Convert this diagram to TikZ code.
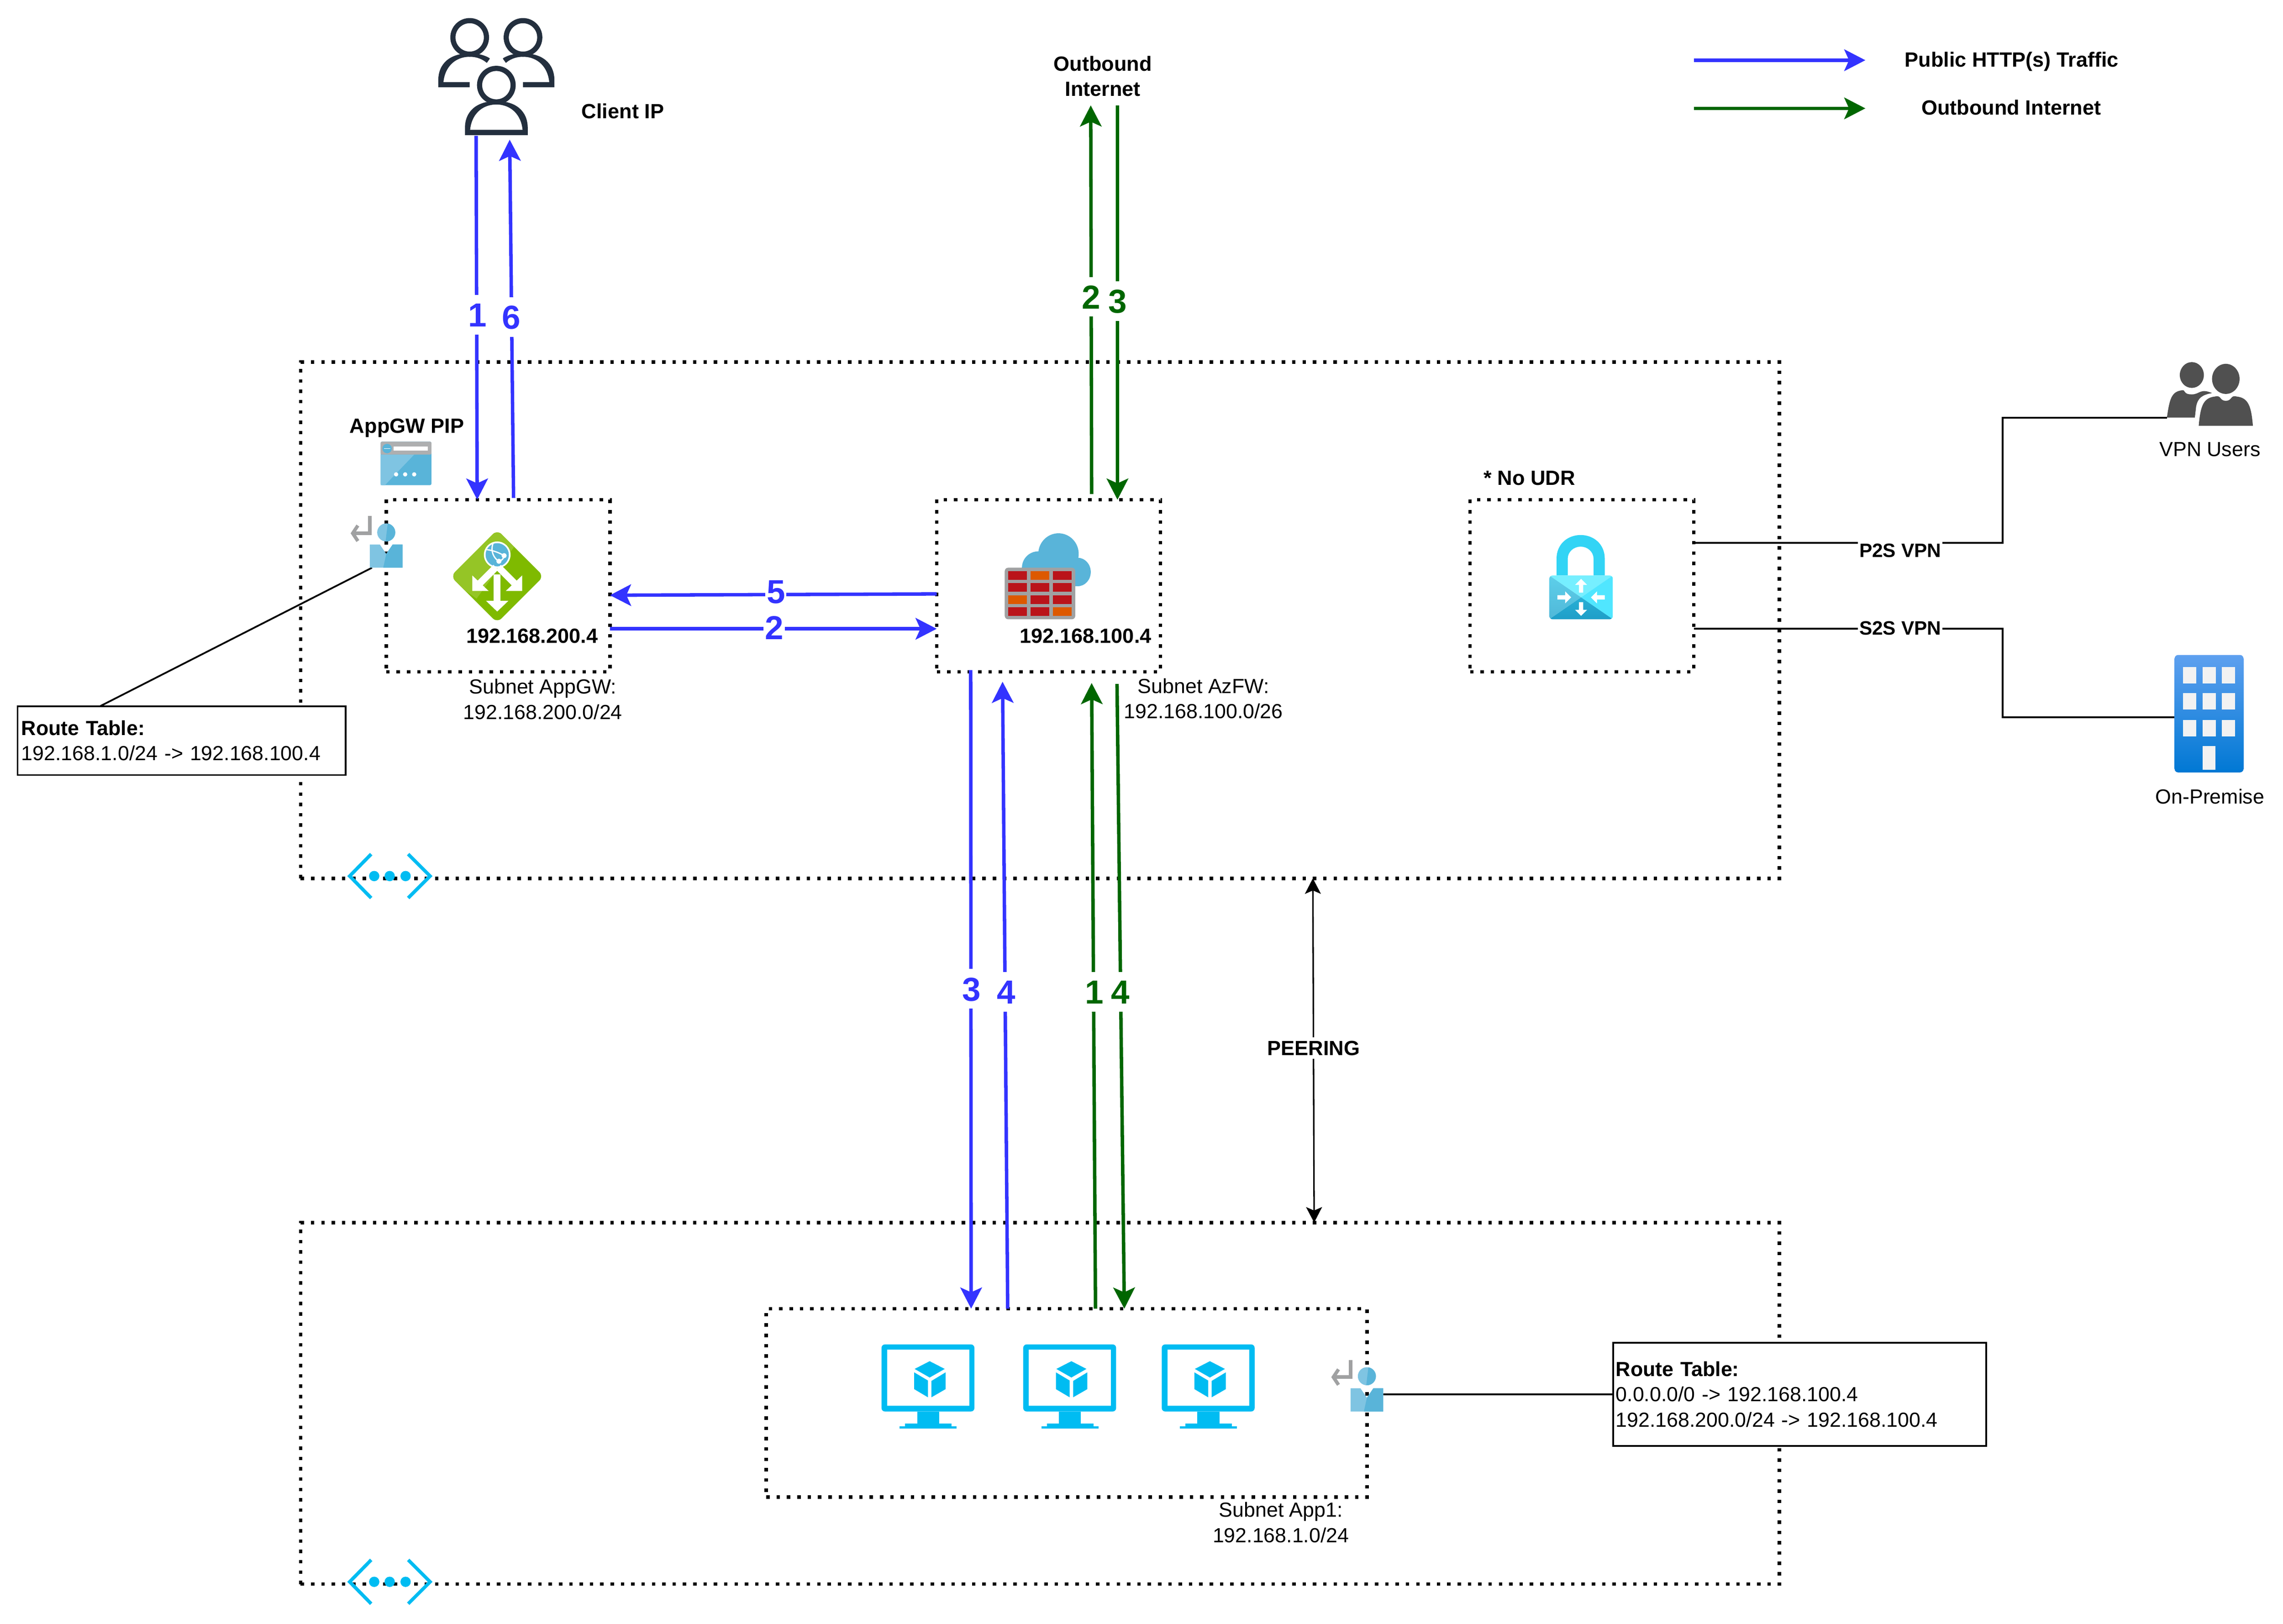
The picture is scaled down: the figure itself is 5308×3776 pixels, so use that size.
\documentclass[tikz,border=0pt]{standalone}
\usepackage{fontspec}
\setmainfont{Liberation Sans}
\usetikzlibrary{arrows.meta}

\definecolor{pubblue}{HTML}{3333FF}
\definecolor{outgreen}{HTML}{006600}
\definecolor{personink}{HTML}{232F3E}
\definecolor{azblue}{HTML}{59B4D9}
\definecolor{azlight}{HTML}{7FC4E2}
\definecolor{vmcyan}{HTML}{00BCF2}
\definecolor{lockcyan}{HTML}{32D4F5}
\definecolor{locktop}{HTML}{76EFFF}
\definecolor{lockright}{HTML}{50E6FF}
\definecolor{lockleftA}{HTML}{5DCFEA}
\definecolor{lockleftB}{HTML}{50B8D8}
\definecolor{lockbotA}{HTML}{28AFD5}
\definecolor{lockbotB}{HTML}{1F9EC8}
\definecolor{agwgreen}{HTML}{7FBA00}
\definecolor{agwlight}{HTML}{95C526}
\definecolor{fwgrey}{HTML}{A0A1A2}
\definecolor{fwred}{HTML}{BA141A}
\definecolor{fworange}{HTML}{DD5900}
\definecolor{vpnink}{HTML}{505050}
\definecolor{premtop}{HTML}{5EA0EF}
\definecolor{prembot}{HTML}{0078D4}

\tikzset{
	every node/.style={font=\fontsize{13.5}{16.7}\selectfont, inner sep=0, outer sep=0},
	lblb/.style={font=\fontsize{13.6}{16.7}\selectfont\bfseries},
	dotbox/.style={draw, line width=.08cm, dash pattern=on .08cm off .16cm},
	routetable/.style={draw, fill=white, line width=.04cm, align=left},
	link/.style={line width=.04cm},
	flow/.style={line width=.08cm, ->},
	pubflow/.style={flow, pubblue},
	outflow/.style={flow, outgreen},
	peerline/.style={line width=.035cm, <->, >={Stealth[length=.36cm,width=.37cm,inset=.08cm]}},
	flownum/.style={font=\fontsize{22}{24}\selectfont\bfseries, fill=white, text height=.56cm, text depth=0cm, inner ysep=.18cm, inner xsep=.03cm},
	edgelbl/.style={font=\fontsize{12.8}{14}\selectfont\bfseries, fill=white, minimum height=.5cm, inner xsep=.03cm},
	pics/backperson/.style={code={
		\clip (-90,-60) -- (62,-60) -- (46.5,50) -- (40,59) -- (0,90) -- (0,125) -- (-90,125) -- cycle;
		\pic {person};
	}},
	pics/person/.style={code={
		\draw[personink, line width=.12cm] (0,0) circle (39);
		\fill[personink, even odd rule] (-73,116) -- (-73,100) .. controls (-73,60) and (-45,37) .. (0,37) .. controls (45,37) and (73,60) .. (73,100) -- (73,116) -- cycle
			(-61,104) .. controls (-58,70) and (-35,45) .. (0,45) .. controls (35,45) and (58,70) .. (61,104) -- cycle;
	}},
	pics/vnetmark/.style={code={
		\draw[vmcyan, line width=.08cm, miter limit=10] (50,-51) -- (0,0) -- (50,51);
		\draw[vmcyan, line width=.08cm, miter limit=10] (136,-51) -- (187,0) -- (136,51);
		\foreach \x in {57,93,130}
		{
			\fill[vmcyan] (\x,0) circle (12);
		}
	}},
	pics/routemark/.style={code={
		\fill[azlight] (0,0) circle (21);
		\begin{scope}
			\clip (4,-25) -- (-2,25) -- (30,25) -- (30,-25) -- cycle;
			\fill[azblue] (0,0) circle (21);
		\end{scope}
		\fill[azlight] (-38,28) -- (-15,28) -- (0,50) -- (15,28) -- (38,28) -- (38,82) -- (-38,82) -- cycle;
		\fill[azblue] (0,50) -- (15,28) -- (38,28) -- (38,82) -- (-7,82) -- cycle;
		\draw[fwgrey, line width=.08cm] (-38,-38) -- (-38,2) -- (-78,2);
		\draw[fwgrey, line width=.08cm] (-66,-16) -- (-78,2) -- (-66,20);
	}},
	pics/vmmark/.style={code={
		\fill[vmcyan, rounded corners=.08cm] (-108,-74) rectangle (108,82);
		\fill[white] (-95,-62) rectangle (96,69);
		\fill[vmcyan] (-25,82) rectangle (26,110);
		\fill[vmcyan] (-53,110) rectangle (55,116);
		\fill[vmcyan] (-66,116) rectangle (67,122);
		\fill[vmcyan] (4,-35) -- (39,-17) -- (4,3) -- (-31,-17) -- cycle;
		\fill[vmcyan] (-32,-9) -- (0,10) -- (0,49) -- (-32,30) -- cycle;
		\fill[vmcyan] (41,-9) -- (8,11) -- (8,49) -- (41,30) -- cycle;
	}},
	pics/gatewaymark/.style={code={
		\fill[agwgreen, rounded corners=.14cm] (0,-108) -- (108,0) -- (0,108) -- (-108,0) -- cycle;
		\begin{scope}
			\clip[rounded corners=.14cm] (0,-108) -- (108,0) -- (0,108) -- (-108,0) -- cycle;
			\fill[agwlight] (-48,52) -- (-120,0) -- (0,-120) -- (39,-68) -- cycle;
		\end{scope}
		\fill[white] (0,-50) circle (31);
		\fill[azblue] (0,-50) circle (27);
		\draw[white, line width=.03cm] (-24,-62) .. controls (-8,-60) and (6,-54) .. (16,-48);
		\draw[white, line width=.03cm] (-10,-76) .. controls (-16,-58) and (-8,-42) .. (4,-35);
		\draw[white, line width=.03cm] (16,-48) .. controls (16,-42) and (10,-36) .. (4,-35);
		\fill[white] (16,-48) circle (6);
		\fill[white] (4,-35) circle (6);
		\fill[white] (-8,-4) rectangle (8,60);
		\fill[white] (-26,57) -- (26,57) -- (0,82) -- cycle;
		\draw[white, line width=.16cm] (-44,20) -- (-3,-21);
		\draw[white, line width=.16cm] (44,20) -- (3,-21);
		\fill[white] (-58,-2) -- (-58,34) -- (-20,34) -- cycle;
		\fill[white] (58,-2) -- (58,34) -- (20,34) -- cycle;
	}},
	pics/firewallmark/.style={code={
		\fill[azblue] (2461,1288) ellipse (47 and 48);
		\fill[azblue] (2414,1320) circle (38);
		\fill[azblue] (2506,1330) ellipse (30 and 33);
		\fill[azblue] (2414,1300) rectangle (2506,1363);
		\fill[fwgrey, rounded corners=.08cm] (2336,1320) rectangle (2500,1440);
		\foreach \cx/\ry/\brick in {0/0/fwred,1/0/fworange,2/0/fwred,0/1/fwred,1/1/fwred,2/1/fwred,0/2/fworange,1/2/fwred,2/2/fwred,0/3/fwred,1/3/fwred,2/3/fworange}
		{
			\fill[\brick] (2344+\cx*52,1328+\ry*28) rectangle ++(44,20);
		}
	}},
	pics/lockmark/.style={code={
		\fill[lockcyan] (-57,-51) -- (-57,-90) .. controls (-57,-125) and (-30,-145) .. (-1,-145) .. controls (28,-145) and (55,-125) .. (55,-90) -- (55,-51) -- (29,-51) -- (29,-90) .. controls (29,-106) and (15,-118) .. (-1,-118) .. controls (-17,-118) and (-31,-106) .. (-31,-90) -- (-31,-51) -- cycle;
		\begin{scope}
			\clip[rounded corners=.08cm] (-74,-51) rectangle (74,51);
			\fill[locktop] (-74,-51) -- (74,-51) -- (0,0) -- cycle;
			\fill[lockright] (74,-51) -- (74,51) -- (0,0) -- cycle;
			\shade[top color=lockleftA, bottom color=lockleftB] (-74,-51) -- (-74,51) -- (0,0) -- cycle;
			\shade[top color=lockbotA, bottom color=lockbotB] (-74,51) -- (74,51) -- (0,0) -- cycle;
		\end{scope}
		\foreach \ang/\tp/\bs/\st in {0/43/29/11,180/43/29/11,90/23/37/55,270/23/37/55}
		{
			\fill[white, rotate=\ang] (0,-\tp) -- (14,-\bs) -- (5,-\bs) -- (5,-\st) -- (-5,-\st) -- (-5,-\bs) -- (-14,-\bs) -- cycle;
		}
	}},
	pics/ipmark/.style={code={
		\fill[azblue, rounded corners=.03cm] (0,0) rectangle (118,101);
		\fill[azlight] (0,30) -- (78,30) -- (10,101) -- (0,101) -- cycle;
		\fill[fwgrey!85!white, rounded corners=.03cm] (0,0) rectangle (118,30);
		\fill[azblue] (15,16) circle (11);
		\fill[white] (30,11) rectangle (110,21);
		\draw[white, line width=.015cm] (8,16) -- (23,16);
		\foreach \x in {36,57,78}
		{
			\fill[white] (\x,76) circle (5);
		}
	}},
	pics/vpnusersmark/.style={code={
		\fill[vpnink] (5096,872) ellipse (28 and 30);
		\fill[vpnink] (5175,881) ellipse (32 and 35);
		\fill[vpnink] (5038,971) .. controls (5044,930) and (5048,912) .. (5070,908) .. controls (5085,904) and (5072,917) .. (5096,917) .. controls (5115,917) and (5115,902) .. (5143,914) .. controls (5120,918) and (5110,925) .. (5106,945) -- (5103,971) -- cycle;
		\fill[vpnink] (5112,990) .. controls (5116,945) and (5122,925) .. (5150,922) .. controls (5165,918) and (5160,932) .. (5175,932) .. controls (5190,932) and (5185,918) .. (5200,922) .. controls (5228,925) and (5234,945) .. (5238,990) -- cycle;
	}},
	pics/premisemark/.style={code={
		\shade[top color=premtop, bottom color=prembot, rounded corners=.08cm] (5056,1528) rectangle (5216,1801);
		\foreach \x in {5075,5121,5166}
		{
			\foreach \y in {1556,1617,1679}
			{
				\fill[black!5] (\x,\y) rectangle ++(31,38);
			}
		}
		\fill[black!5] (5121,1740) rectangle (5151,1795);
	}}
}

\begin{document}
\begin{tikzpicture}[x=.01cm, y=-.01cm, >={Stealth[length=.49cm,width=.5cm,inset=.11cm]}]
	\useasboundingbox (0,0) rectangle (5308,3776);

	\node[dotbox, minimum width=34.36cm, minimum height=12cm] (hubvnet) at (2418,1442) {};
	\node[dotbox, minimum width=34.36cm, minimum height=8.4cm] (spokevnet) at (2418,3263) {};
	\node[dotbox, minimum width=5.2cm, minimum height=4cm] (appgw) at (1158,1362) {};
	\node[dotbox, minimum width=5.2cm, minimum height=4cm] (azfw) at (2438,1362) {};
	\node[dotbox, minimum width=5.2cm, minimum height=4cm] (vpngw) at (3678,1362) {};
	\node[dotbox, minimum width=13.96cm, minimum height=4.38cm] (app) at (2480,3262) {};

	\node[minimum width=2.1cm] (clients) at (1154,314) {};
	\node[minimum width=2cm] (vpnusers) at (5138,971) {};
	\node[minimum width=1.6cm, minimum height=2.73cm] (onprem) at (5136,1659.5) {};
	\node[minimum width=.76cm, minimum height=.54cm] (appgwrt) at (898,1293) {};
	\node[minimum width=.76cm, minimum height=.54cm] (apprt) at (3178,3255) {};
	\coordinate (outtop) at (2564,245);
	\coordinate (legpubA) at (3938,140);
	\coordinate (legpubB) at (4337,140);
	\coordinate (legoutA) at (3938,252);
	\coordinate (legoutB) at (4337,252);

	\node[routetable, text width=7.44cm, minimum height=1.6cm, inner xsep=.09cm] (rtappgw) at (422,1722) {\textbf{Route Table:}\\192.168.1.0/24 -> 192.168.100.4};
	\node[routetable, text width=8.55cm, minimum height=2.4cm, inner xsep=.06cm] (rtapp) at (4184.5,3242) {\textbf{Route Table:}\\0.0.0.0/0 -> 192.168.100.4\\192.168.200.0/24 -> 192.168.100.4};

	\draw[pubflow] ([xshift=-.47cm]clients.south) -- ([xshift=-.485cm]appgw.north);
	\draw[pubflow] ([xshift=.36cm,yshift=.04cm]appgw.north) -- ([xshift=.31cm,yshift=-.09cm]clients.south);
	\draw[pubflow] ([yshift=-.19cm]azfw.west) -- ([yshift=-.22cm]appgw.east);
	\draw[pubflow] ([yshift=-1cm]appgw.east) -- ([yshift=-1cm]azfw.west);
	\draw[pubflow] ([xshift=-1.81cm,yshift=.04cm]azfw.south) -- ([xshift=-2.22cm]app.north);
	\draw[pubflow] ([xshift=-1.37cm]app.north) -- ([xshift=-1.07cm,yshift=-.23cm]azfw.south);
	\draw[outflow] ([xshift=1cm,yshift=.13cm]azfw.north) -- ([xshift=-.28cm]outtop);
	\draw[outflow] ([xshift=.34cm]outtop) -- ([xshift=1.6cm]azfw.north);
	\draw[outflow] ([xshift=.67cm]app.north) -- ([xshift=1cm,yshift=-.26cm]azfw.south);
	\draw[outflow] ([xshift=1.59cm,yshift=-.28cm]azfw.south) -- ([xshift=1.34cm]app.north);
	\draw[pubflow] (legpubA) -- (legpubB);
	\draw[outflow] (legoutA) -- (legoutB);

	\draw[peerline] ([xshift=6.34cm]hubvnet.south) -- ([xshift=6.37cm]spokevnet.north);
	\draw[link] ([yshift=1cm]vpngw.east) -- ++(718,0) |- (vpnusers.west);
	\draw[link] ([yshift=-1cm]vpngw.east) -- ++(718,0) |- ([xshift=.02cm,yshift=-.08cm]onprem.west);
	\draw[link] ([xshift=-.33cm]appgwrt.south) -- ([xshift=-1.89cm]rtappgw.north);
	\draw[link] ([yshift=.13cm]apprt.east) -- (rtapp.west);

	\node[flownum, text=pubblue] (numa) at (1110,732) {1};
	\node[flownum, text=pubblue] (numb) at (1189,737) {6};
	\node[flownum, text=pubblue] (numc) at (1804,1375) {5};
	\node[flownum, text=pubblue] (numd) at (1800,1459) {2};
	\node[flownum, text=pubblue] (nume) at (2259,2299) {3};
	\node[flownum, text=pubblue] (numf) at (2339,2306) {4};
	\node[flownum, text=outgreen] (numg) at (2537,690) {2};
	\node[flownum, text=outgreen] (numh) at (2598,700) {3};
	\node[flownum, text=outgreen] (numi) at (2544,2306) {1};
	\node[flownum, text=outgreen] (numj) at (2605,2306) {4};

	\node[lblb, anchor=base] (clientip) at (1448,275) {Client IP};
	\node[lblb, align=center] (outbound) at (2564,177) {Outbound\\Internet};
	\node[lblb, anchor=base] (legpub) at (4677,156) {Public HTTP(s) Traffic};
	\node[lblb, anchor=base] (legout) at (4676,267) {Outbound Internet};
	\node[lblb, anchor=base] (pipname) at (946,1007) {AppGW PIP};
	\node[lblb, anchor=base] (appgwip) at (1237,1495) {192.168.200.4};
	\node[lblb, anchor=base] (azfwip) at (2524,1495) {192.168.100.4};
	\node[lblb, anchor=base] (noudr) at (3556,1128) {* No UDR};
	\node[align=center] (subappgw) at (1262,1626) {Subnet AppGW:\\192.168.200.0/24};
	\node[align=center] (subazfw) at (2798,1624) {Subnet AzFW:\\192.168.100.0/26};
	\node[align=center] (subapp) at (2978,3540) {Subnet App1:\\192.168.1.0/24};
	\node[anchor=base] (vpnname) at (5138,1061) {VPN Users};
	\node[anchor=base] (premname) at (5138,1869) {On-Premise};
	\node[lblb, fill=white, inner xsep=.02cm, inner ysep=.08cm] (peering) at (3054,2437) {PEERING};
	\node[edgelbl] (ptos) at (4418,1280) {P2S VPN};
	\node[edgelbl] (stos) at (4418,1461) {S2S VPN};

	\pic at (1092,87) {backperson};
	\pic[xscale=-1] at (1216,87) {backperson};
	\pic at (1154,198) {person};
	\pic at (1156,1340) {gatewaymark};
	\pic at (885,1027) {ipmark};
	\pic at (898,1238) {routemark};
	\pic at (3178,3200) {routemark};
	\pic at (0,0) {firewallmark};
	\pic at (3676,1389) {lockmark};
	\pic at (0,0) {vpnusersmark};
	\pic at (0,-5) {premisemark};
	\pic at (813,2037) {vnetmark};
	\pic at (813,3678) {vnetmark};
	\foreach \x in {2157.5,2487,2809}
	{
		\pic at (\x,3200) {vmmark};
	}
\end{tikzpicture}
\end{document}
